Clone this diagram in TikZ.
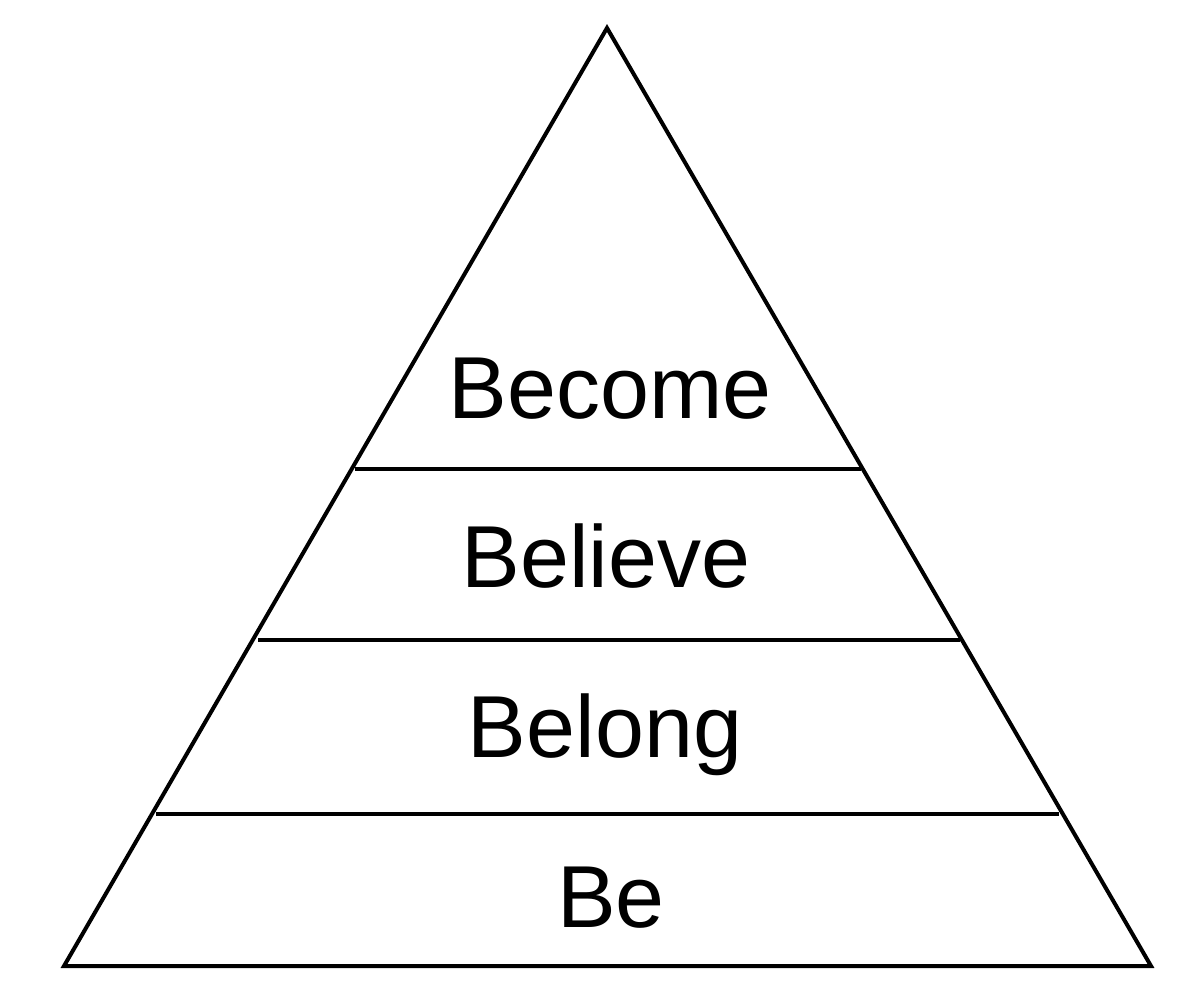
\documentclass[tikz,border=0pt]{standalone}
\usepackage{fontspec}
\setmainfont{Liberation Sans}
\begin{document}
\begin{tikzpicture}[x=1pt,y=-1pt,
  edge/.style={line width=4pt,line join=miter},
  lbl/.style={anchor=base,font=\fontsize{88}{100}\selectfont,inner sep=0pt}]
\useasboundingbox (0,0) rectangle (1200,1004);
\coordinate (apex) at (607,28);
\coordinate (bl) at (64,966);
\coordinate (br) at (1151,966);
\draw[edge] (apex) -- (br) -- (bl) -- cycle;
\coordinate (l1a) at (355,469); \coordinate (l1b) at (861,469);
\coordinate (l2a) at (258,640); \coordinate (l2b) at (960,640);
\coordinate (l3a) at (156,814); \coordinate (l3b) at (1059,814);
\draw[edge] (l1a) -- (l1b);
\draw[edge] (l2a) -- (l2b);
\draw[edge] (l3a) -- (l3b);
\node[lbl] (become) at (610,418) {Become};
\node[lbl] (believe) at (606,587) {Believe};
\node[lbl] (belong) at (605,757) {Belong};
\node[lbl] (be) at (611,927) {Be};
\end{tikzpicture}
\end{document}
